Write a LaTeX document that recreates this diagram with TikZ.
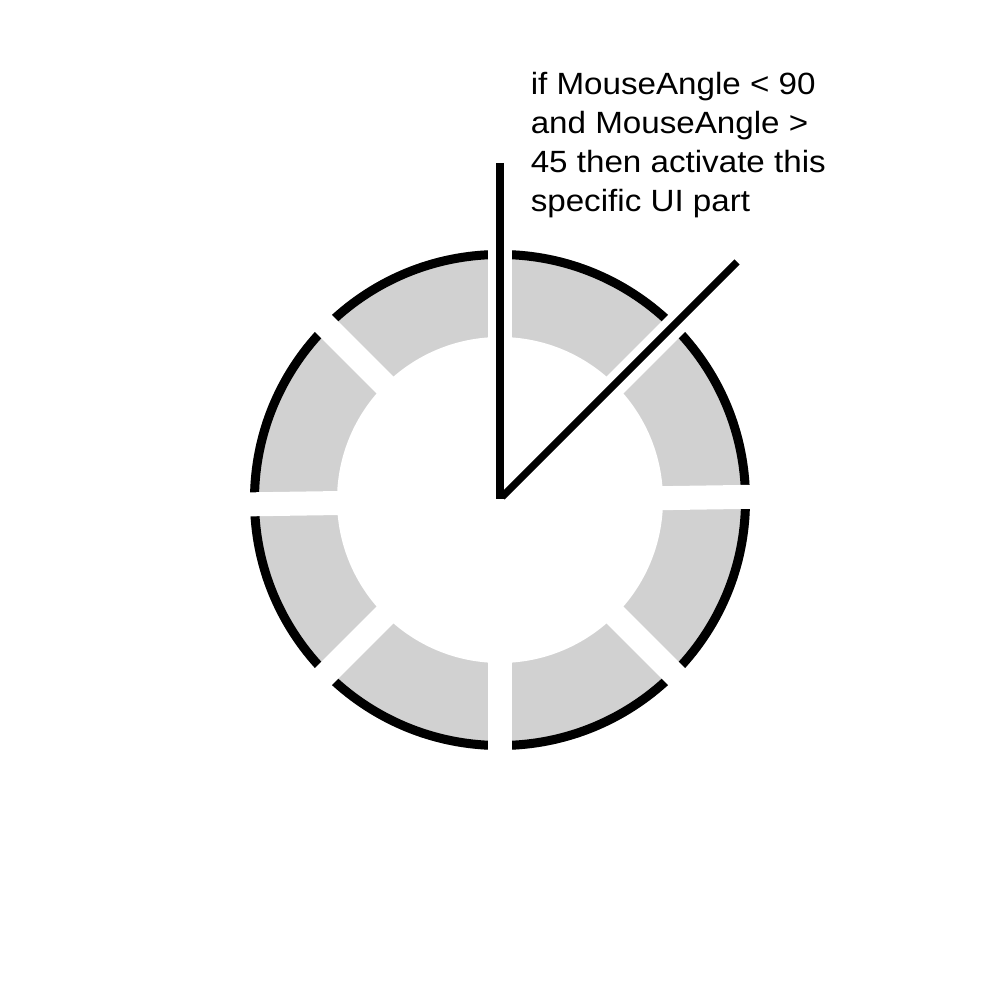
\documentclass[tikz,border=0pt]{standalone}
\usepackage{fontspec}
\setmainfont{Liberation Sans}
\definecolor{ringgray}{RGB}{209,209,209}
\begin{document}
\begin{tikzpicture}[x=0.1mm,y=0.1mm,
  gapbar/.style={white, line width=2.4mm, line cap=butt},
  pointer/.style={black, line width=0.72mm, line cap=butt},
  notetext/.style={font=\fontsize{8.74pt}{11.1pt}\selectfont, align=left, inner sep=0pt, anchor=north west, xscale=1.08}]
\useasboundingbox (0,0) rectangle (1000,1000);
\coordinate (c) at (500,500);
% ring
\fill[ringgray] (c) circle[radius=250];
\fill[white] (c) circle[radius=163];
\draw[black, line width=0.9mm] (c) circle[radius=245.5];
% gaps between the eight segments
\coordinate (gw) at (240,495.5);
\coordinate (ge) at (760,503.3);
\coordinate (gs) at (500,240);
\coordinate (gn) at (500,760);
\coordinate (gsw) at (316,316);
\coordinate (gne) at (684,684);
\coordinate (gnw) at (316,684);
\coordinate (gse) at (684,316);
\draw[gapbar] (gw) -- (ge);
\draw[gapbar] (gs) -- (gn);
\draw[gapbar] (gsw) -- (gne);
\draw[gapbar] (gnw) -- (gse);
% pointer lines
\coordinate (vtop) at (500,837);
\coordinate (vbot) at (500,501);
\coordinate (dstart) at (502,503);
\coordinate (dend) at (737,738);
\draw[pointer] (vtop) -- (vbot);
\draw[pointer] (dstart) -- (dend);
% note
\node[notetext] (txt) at (530,928.4) {if MouseAngle < 90\\and MouseAngle >\\45 then activate this\\specific UI part};
\end{tikzpicture}
\end{document}
